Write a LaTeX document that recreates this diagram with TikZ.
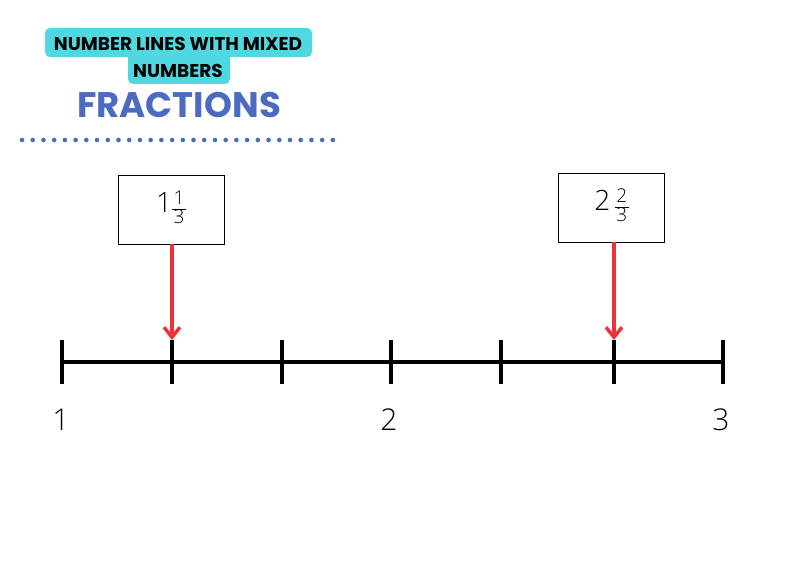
\documentclass[tikz,border=0pt]{standalone}
\usepackage{fontspec}
\setmainfont{Poppins}
\newfontfamily\thinf{Open Sans Light}
\usetikzlibrary{arrows.meta}
\definecolor{cyanhl}{HTML}{4FD8E0}
\definecolor{titleblue}{HTML}{4A6BC0}
\definecolor{arrred}{HTML}{EE3338}
\newcommand{\smfrac}[2]{\raisebox{-0.1ex}{\fontsize{19}{19}\selectfont\setlength{\arrayrulewidth}{0.6pt}\setlength{\tabcolsep}{1.5pt}\renewcommand{\arraystretch}{0.8}\begin{tabular}{c}#1\\\hline #2\end{tabular}}}
\tikzset{
  tick/.style={line width=3.5pt},
  valbox/.style={draw,line width=0.8pt,minimum width=106pt,minimum height=69pt,inner sep=0pt,font=\thinf\fontsize{28}{30}\selectfont},
  lab/.style={font=\thinf\fontsize{30}{32}\selectfont,inner sep=0pt},
  redarr/.style={draw=arrred,line width=3.5pt,-{Straight Barb[length=10pt,width=16pt,line width=3.5pt]}},
}
\begin{document}
\begin{tikzpicture}[x=1pt,y=-1pt]
\useasboundingbox (0,0) rectangle (794,561);
\fill[cyanhl,rounded corners=5pt] (45,28) rectangle (312,57);
\fill[cyanhl,rounded corners=5pt] (128,52) rectangle (230,84);
\node[font=\bfseries\fontsize{18.5}{19}\selectfont] (t1) at (178,44) {NUMBER LINES WITH MIXED};
\node[font=\bfseries\fontsize{18.5}{19}\selectfont] (t2) at (178,71) {NUMBERS};
\node[font=\bfseries\fontsize{35.5}{37}\selectfont,text=titleblue] (t3) at (179,105) {FRACTIONS};
\foreach \i in {0,...,29}{\fill[titleblue] ({22+\i*10.72},140) circle (2.3pt);}
\draw[tick] (62,362) -- (723,362);
\foreach \x/\n in {62/a,172/b,282/c,391/d,501/e,614/f,723/g}{
  \coordinate (top\n) at (\x,340);
  \draw[tick] (\x,340) -- (\x,384);
}
\node[lab] (l1) at (61,420) {1};
\node[lab] (l2) at (389,420) {2};
\node[lab] (l3) at (721,420) {3};
\node[valbox] (b1) at (171,209.5) {1\smfrac{1}{3}};
\node[valbox] (b2) at (611.5,207.5) {2\,\smfrac{2}{3}};
\draw[redarr] (b1.south -| topb) -- (topb);
\draw[redarr] (b2.south -| topf) -- (topf);
\end{tikzpicture}
\end{document}
